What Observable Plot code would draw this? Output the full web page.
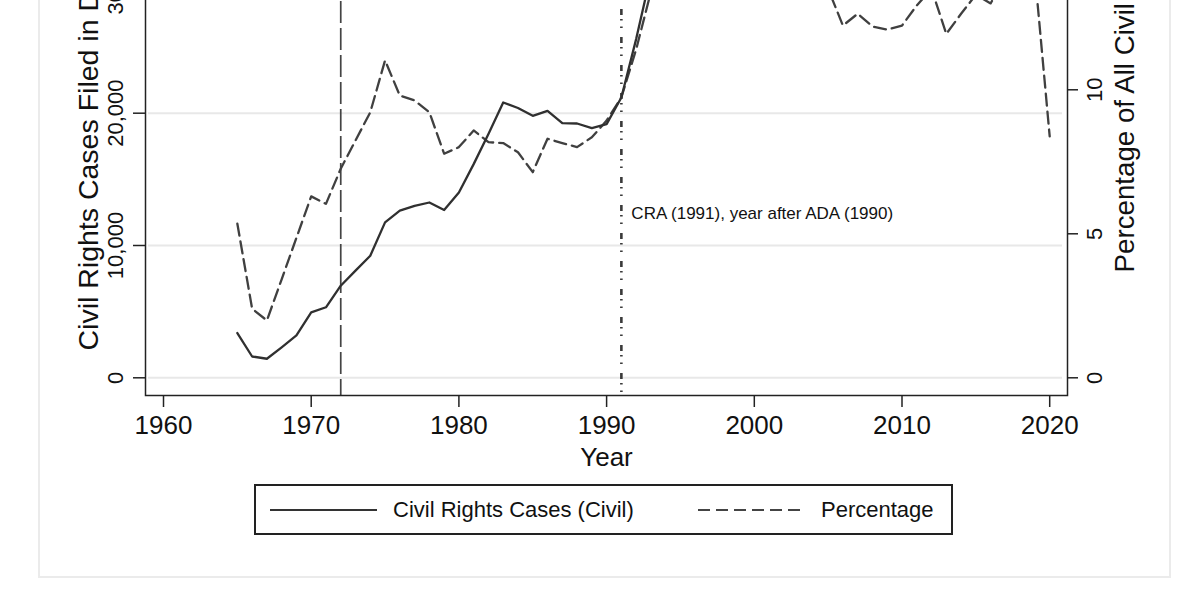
<!DOCTYPE html>
<html>
<head>
<meta charset="utf-8">
<script src="https://cdn.jsdelivr.net/npm/d3@7"></script>
<script src="https://cdn.jsdelivr.net/npm/@observablehq/plot@0.6"></script>
<style>
  html, body { margin: 0; padding: 0; background: #fff; width: 1200px; height: 600px; overflow: hidden; }
  #wrap { position: relative; width: 1200px; height: 600px; overflow: hidden; font-family: "Liberation Sans", Arial, sans-serif; }
  #outer { position: absolute; left: 38px; top: -10px; width: 1133px; height: 588px; border: 2px solid #ebebeb; box-sizing: border-box; }
  #chart { position: absolute; left: 0; top: -220px; }
  #legend { position: absolute; left: 254px; top: 484px; width: 699px; height: 51px; border: 2px solid #222; box-sizing: border-box; background: #fff; }
  #legend .t { position: absolute; top: 50%; transform: translateY(-50%); font-size: 22px; color: #111; white-space: nowrap; }
  #legend svg { position: absolute; top: 0; }
</style>
</head>
<body>
<div id="wrap">
  <div id="outer"></div>
  <div id="chart"></div>
  <div id="legend"></div>
</div>
<script>
// ---- data ----
const years = [1965,1966,1967,1968,1969,1970,1971,1972,1973,1974,1975,1976,1977,1978,1979,
  1980,1981,1982,1983,1984,1985,1986,1987,1988,1989,1990,1991,1992,1993,1994,1995,1996,1997,
  1998,1999,2000,2001,2002,2003,2004,2005,2006,2007,2008,2009,2010,2011,2012,2013,2014,2015,
  2016,2017,2018,2019,2020];
const cases = [3380,1610,1440,2300,3200,4950,5330,6960,8100,9230,11750,12630,13000,13250,12680,
  14010,16150,18420,20810,20390,19800,20180,19250,19220,18870,19170,21190,25600,30500,34600,38200,41900,43300,
  42300,41300,40900,40700,40600,39900,37900,36100,32900,31700,32100,33800,35000,36200,35300,34800,34400,35700,
  37600,40100,38700,38200,40100];
const pct = [5.35,2.40,1.99,3.42,4.86,6.30,6.04,7.26,8.24,9.22,11.02,9.80,9.63,9.22,7.78,
  8.01,8.59,8.18,8.15,7.83,7.14,8.30,8.15,8.01,8.35,8.93,9.74,11.4,13.4,14.9,15.8,16.0,16.3,
  16.2,15.9,15.6,15.9,14.9,15.1,14.4,13.5,12.23,12.64,12.2,12.09,12.23,12.93,13.5,11.94,12.64,13.3,
  13.0,13.9,14.4,14.0,8.38];
const xTicks = [1960,1970,1980,1990,2000,2010,2020];
const leftTicks = [0,10000,20000,30000,40000];
const rightTicks = [0,5,10,15,20];
const eventYears = [1972, 1991];
const leftTitle = "Civil Rights Cases Filed in District Courts";
const rightTitle = "Percentage of All Civil Cases";
const xTitle = "Year";
const annotation = "CRA (1991), year after ADA (1990)";
const seriesNames = ["Civil Rights Cases (Civil)", "Percentage"];

const data = years.map((y, i) => ({year: y, cases: cases[i], pct: pct[i]}));

// ---- scale geometry ----
const PXY = 14.77;            // px per year
const PYC = 0.01323;          // px per case
const XMIN = 1958.781, XMAX = 2021.205;
const YMIN = -1338, YMAX = 44769;
const K = 2176.9;             // cases per percentage point (secondary axis)

const fontFamily = '"Liberation Sans", Arial, Helvetica, sans-serif';

const chart = Plot.plot({
  width: 1200,
  height: 820,
  marginLeft: 145,
  marginRight: 133,
  marginTop: 5,
  marginBottom: 205,
  style: {fontFamily, background: "transparent", overflow: "visible", color: "#111"},
  x: {domain: [XMIN, XMAX], axis: null},
  y: {domain: [YMIN, YMAX], axis: null},
  marks: [
    Plot.ruleY(leftTicks, {stroke: "#e8e8e8", strokeWidth: 2, insetLeft: 3, insetRight: 5}),
    // event lines
    Plot.ruleX([eventYears[0]], {stroke: "#444", strokeWidth: 1.7, strokeDasharray: "22,5"}),
    Plot.ruleX([eventYears[1]], {stroke: "#3a3a3a", strokeWidth: 2.6, strokeDasharray: "6,4,1.5,6,1.5,9"}),
    Plot.text([annotation], {x: eventYears[1], y: 12420, dx: 10, textAnchor: "start", fontSize: 17, fill: "#111"}),
    // series
    Plot.line(data, {x: "year", y: d => d.pct * K, stroke: "#404040", strokeWidth: 2.3, strokeDasharray: "12,6"}),
    Plot.line(data, {x: "year", y: "cases", stroke: "#303030", strokeWidth: 2.3}),
    Plot.frame({stroke: "#222", strokeWidth: 1.5}),
    // bottom axis
    Plot.ruleX(xTicks, {y1: YMIN, y2: YMIN - 12 / PYC, stroke: "#222", strokeWidth: 1.5}),
    Plot.text(xTicks, {x: d => d, frameAnchor: "bottom", dy: 38, text: d => String(d), fontSize: 26, fill: "#111"}),
    Plot.text([xTitle], {frameAnchor: "bottom", dy: 70, fontSize: 26, fill: "#111"}),
    // left axis
    Plot.ruleY(leftTicks, {x1: XMIN - 12 / PXY, x2: XMIN, stroke: "#222", strokeWidth: 1.5}),
    Plot.text(leftTicks, {y: d => d, frameAnchor: "left", dx: -30, rotate: -90, textAnchor: "middle", lineAnchor: "middle", text: d => d3.format(",")(d), fontSize: 22, fill: "#111"}),
    Plot.text([leftTitle], {y: 2063, frameAnchor: "left", dx: -57, rotate: -90, textAnchor: "start", lineAnchor: "middle", fontSize: 28.5, fill: "#111"}),
    // right axis
    Plot.ruleY(rightTicks.map(d => d * K), {x1: XMAX, x2: XMAX + 11 / PXY, stroke: "#222", strokeWidth: 1.5}),
    Plot.text(rightTicks, {y: d => d * K, frameAnchor: "right", dx: 27, rotate: -90, textAnchor: "middle", lineAnchor: "middle", text: d => String(d), fontSize: 22, fill: "#111"}),
    Plot.text([rightTitle], {y: 3.66 * K, frameAnchor: "right", dx: 58, rotate: -90, textAnchor: "start", lineAnchor: "middle", fontSize: 27.7, fill: "#111"})
  ]
});
document.getElementById("chart").appendChild(chart);

// ---- legend ----
const lg = document.getElementById("legend");
lg.innerHTML = `
  <svg width="120" height="47" style="left:12px"><line x1="2" x2="109" y1="24" y2="24" stroke="#333" stroke-width="2.2"/></svg>
  <div class="t" style="left:137px">${seriesNames[0]}</div>
  <svg width="120" height="47" style="left:440px"><line x1="2" x2="109" y1="24" y2="24" stroke="#444" stroke-width="2.2" stroke-dasharray="12,6"/></svg>
  <div class="t" style="left:565px">${seriesNames[1]}</div>
`;
</script>
</body>
</html>
